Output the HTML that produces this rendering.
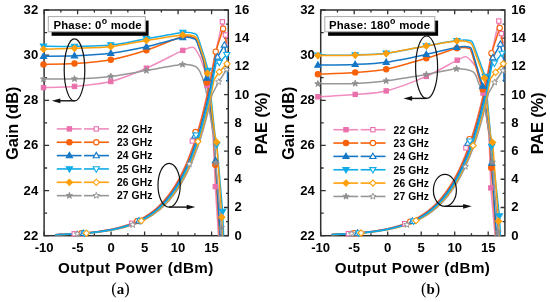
<!DOCTYPE html><html><head><meta charset="utf-8"><style>html,body{margin:0;padding:0;background:#fff;}svg{display:block;}.t{font-family:"Liberation Sans",Arial,sans-serif;font-weight:bold;fill:#000;}.s{font-family:"Liberation Serif","Times New Roman",serif;fill:#000;}</style></head><body><svg width="550" height="302" viewBox="0 0 550 302"><rect width="550" height="302" fill="#fff"/><clipPath id="c44"><rect x="44.1" y="10.0" width="184.20000000000002" height="225.7"/></clipPath><path d="M44.1,235.7v-4.3M44.1,10.0v4.3M60.85,235.7v-2.5M60.85,10.0v2.5M77.6,235.7v-4.3M77.6,10.0v4.3M94.35,235.7v-2.5M94.35,10.0v2.5M111.1,235.7v-4.3M111.1,10.0v4.3M127.85,235.7v-2.5M127.85,10.0v2.5M144.6,235.7v-4.3M144.6,10.0v4.3M161.35,235.7v-2.5M161.35,10.0v2.5M178.1,235.7v-4.3M178.1,10.0v4.3M194.85,235.7v-2.5M194.85,10.0v2.5M211.6,235.7v-4.3M211.6,10.0v4.3M44.1,235.7h5M44.1,213.13h3M44.1,190.56h5M44.1,167.99h3M44.1,145.42h5M44.1,122.85h3M44.1,100.28h5M44.1,77.71h3M44.1,55.14h5M44.1,32.57h3M44.1,10h5M228.3,235.7h-4.3M228.3,221.59h-2.3M228.3,207.49h-4.3M228.3,193.38h-2.3M228.3,179.27h-4.3M228.3,165.17h-2.3M228.3,151.06h-4.3M228.3,136.96h-2.3M228.3,122.85h-4.3M228.3,108.74h-2.3M228.3,94.64h-4.3M228.3,80.53h-2.3M228.3,66.43h-4.3M228.3,52.32h-2.3M228.3,38.21h-4.3M228.3,24.11h-2.3M228.3,10h-4.3" stroke="#303030" stroke-width="1.3" fill="none"/><rect x="44.1" y="10.0" width="184.2" height="225.7" fill="none" stroke="#303030" stroke-width="1.5"/><g clip-path="url(#c44)"><path d="M43.5,87.6C47.53,87.44 65.75,87.19 74.5,86.4C83.25,85.61 101.45,83.87 110.8,81.5C120.15,79.13 137.04,72.24 146.4,68.2C155.76,64.16 176.7,53.1 182.8,50.4C188.9,47.7 191.01,46.44 193.3,47.4C195.59,48.36 198.93,54.87 200.4,57.8L204.6,69.9L207.2,85.2L213,135L215.3,186.6L218.8,240" fill="none" stroke="#F08CBE" stroke-width="1.5" stroke-linejoin="round"/></g><g clip-path="url(#c44)"><path d="M43.5,64.4C47.53,64.28 65.75,64.11 74.5,63.5C83.25,62.89 101.45,61.43 110.8,59.7C120.15,57.97 137.04,53.2 146.4,50.2C155.76,47.2 176.61,38.21 182.8,36.6C188.99,34.99 192.15,37.23 194,37.8C195.85,38.37 195.76,37.98 197,41L203.5,61L206.8,82.5L213.5,135L215.3,164.8L219.8,240" fill="none" stroke="#F8620A" stroke-width="1.5" stroke-linejoin="round"/></g><g clip-path="url(#c44)"><path d="M43.5,56.2C47.53,56.14 65.75,56.09 74.5,55.7C83.25,55.31 101.45,54.37 110.8,53.2C120.15,52.03 137.04,48.73 146.4,46.7C155.76,44.67 176.61,38.63 182.8,37.6C188.99,36.57 192.15,38.23 194,38.8C195.85,39.37 195.73,39.18 197,42L203.8,60.5L206.8,78L214,135L215.5,160.6L220.4,240" fill="none" stroke="#1577C6" stroke-width="1.5" stroke-linejoin="round"/></g><g clip-path="url(#c44)"><path d="M43.5,46.2C47.53,46.23 65.75,46.56 74.5,46.4C83.25,46.24 101.45,45.99 110.8,45C120.15,44.01 137.04,40.44 146.4,38.8C155.76,37.16 176.47,33.06 182.8,32.4C189.13,31.74 193.12,33.04 195.1,33.7C197.08,34.36 196.76,34.37 198,37.5L204.6,57.8L208.2,70.5L215,135L216.8,144.6L222.6,211.4L223.8,240" fill="none" stroke="#10ACE8" stroke-width="1.5" stroke-linejoin="round"/></g><g clip-path="url(#c44)"><path d="M43.5,49.2C47.53,49.08 65.75,48.62 74.5,48.3C83.25,47.97 101.45,47.73 110.8,46.7C120.15,45.67 137.04,41.93 146.4,40.4C155.76,38.87 176.55,35.45 182.8,34.9C189.05,34.35 192.58,35.56 194.5,36.2C196.42,36.84 196.34,36.84 197.6,39.8L204.2,59L207.5,73.2L214.7,135L216.6,142.2L221.8,217.2L222.6,240" fill="none" stroke="#FFA00C" stroke-width="1.5" stroke-linejoin="round"/></g><g clip-path="url(#c44)"><path d="M43.5,79.1C47.53,79.07 65.75,79.25 74.5,78.9C83.25,78.55 101.45,77.48 110.8,76.4C120.15,75.32 137.08,72.15 146.4,70.6C155.72,69.05 175.81,64.79 182.5,64.5C189.19,64.21 194.83,64.98 197.9,68.4C200.97,71.82 204.07,82.14 206.1,90.8L213.5,135L215.8,162.8L221.4,227.6L221.8,240" fill="none" stroke="#979797" stroke-width="1.5" stroke-linejoin="round"/></g><g clip-path="url(#c44)"><polyline points="55.1,234.81 56.6,234.77 58.1,234.72 59.6,234.67 61.1,234.62 62.6,234.57 64.1,234.51 65.6,234.46 67.1,234.39 68.6,234.33 70.1,234.26 71.6,234.19 73.1,234.11 74.6,234.03 76.1,233.95 77.6,233.87 79.1,233.77 80.6,233.68 82.1,233.58 83.6,233.47 85.1,233.36 86.6,233.25 88.1,233.12 89.6,233 91.1,232.86 92.6,232.72 94.1,232.57 95.6,232.42 97.1,232.26 98.6,232.08 100.1,231.91 101.6,231.72 103.1,231.52 104.6,231.31 106.1,231.09 107.6,230.86 109.1,230.62 110.6,230.37 112.1,230.11 113.6,229.83 115.1,229.54 116.6,229.23 118.1,228.91 119.6,228.58 121.1,228.22 122.6,227.85 124.1,227.46 125.6,227.05 127.1,226.62 128.6,226.17 130.1,225.7 131.6,225.2 133.1,224.68 134.6,224.13 136.1,223.56 137.6,222.96 139.1,222.32 140.6,221.66 142.1,220.96 143.6,220.23 145.1,219.46 146.6,218.66 148.1,217.81 149.6,216.92 151.1,215.99 152.6,215.01 154.1,213.98 155.6,212.9 157.1,211.77 158.6,210.58 160.1,209.34 161.6,208.03 163.1,206.65 164.6,205.21 166.1,203.7 167.6,202.11 169.1,200.44 170.6,198.69 172.1,196.85 173.6,194.93 175.1,192.9 176.6,190.78 178.1,188.55 179.6,186.2 181.1,183.75 182.6,181.17 184.1,178.46 185.6,175.62 187.1,172.63 188.6,169.5 190.1,166.22 191.6,162.77 193.1,159.14 194.6,155.34 196.1,151.35 197.6,147.17 199.1,142.77 200.6,138.16 202.1,133.31 203.6,128.23 205.1,122.89 206.6,117.29 208.1,111.41 209.6,105.24 211.1,98.77 212,94.73 218.6,81.9 226.6,69.5" fill="none" stroke="#979797" stroke-width="1.5" stroke-linejoin="round"/></g><g clip-path="url(#c44)"><polyline points="55.1,234.66 56.6,234.61 58.1,234.55 59.6,234.49 61.1,234.43 62.6,234.37 64.1,234.31 65.6,234.24 67.1,234.16 68.6,234.09 70.1,234.01 71.6,233.92 73.1,233.84 74.6,233.74 76.1,233.65 77.6,233.54 79.1,233.44 80.6,233.32 82.1,233.21 83.6,233.08 85.1,232.95 86.6,232.82 88.1,232.67 89.6,232.52 91.1,232.37 92.6,232.2 94.1,232.03 95.6,231.84 97.1,231.65 98.6,231.45 100.1,231.24 101.6,231.02 103.1,230.79 104.6,230.54 106.1,230.29 107.6,230.02 109.1,229.73 110.6,229.44 112.1,229.13 113.6,228.8 115.1,228.46 116.6,228.1 118.1,227.72 119.6,227.33 121.1,226.91 122.6,226.47 124.1,226.02 125.6,225.53 127.1,225.03 128.6,224.5 130.1,223.94 131.6,223.36 133.1,222.75 134.6,222.11 136.1,221.43 137.6,220.72 139.1,219.98 140.6,219.2 142.1,218.38 143.6,217.52 145.1,216.62 146.6,215.67 148.1,214.67 149.6,213.63 151.1,212.53 152.6,211.38 154.1,210.18 155.6,208.91 157.1,207.58 158.6,206.18 160.1,204.72 161.6,203.18 163.1,201.56 164.6,199.87 166.1,198.09 167.6,196.22 169.1,194.26 170.6,192.2 172.1,190.04 173.6,187.78 175.1,185.4 176.6,182.9 178.1,180.28 179.6,177.53 181.1,174.64 182.6,171.61 184.1,168.42 185.6,165.08 187.1,161.58 188.6,157.9 190.1,154.04 191.6,149.98 193.1,145.72 194.6,141.26 196.1,136.57 197.6,131.65 199.1,126.48 200.6,121.06 202.1,115.36 203.6,109.39 205.1,103.12 206.6,96.54 208.1,89.63 209.6,82.37 211.1,74.76 212.6,66.77 213.5,61.79 222.4,21.8 225.4,35 227.2,46" fill="none" stroke="#F08CBE" stroke-width="1.5" stroke-linejoin="round"/></g><g clip-path="url(#c44)"><polyline points="55.1,234.67 56.6,234.62 58.1,234.57 59.6,234.51 61.1,234.45 62.6,234.39 64.1,234.32 65.6,234.26 67.1,234.18 68.6,234.11 70.1,234.03 71.6,233.95 73.1,233.86 74.6,233.77 76.1,233.67 77.6,233.57 79.1,233.47 80.6,233.35 82.1,233.24 83.6,233.12 85.1,232.99 86.6,232.85 88.1,232.71 89.6,232.56 91.1,232.41 92.6,232.24 94.1,232.07 95.6,231.89 97.1,231.7 98.6,231.51 100.1,231.3 101.6,231.08 103.1,230.85 104.6,230.61 106.1,230.36 107.6,230.09 109.1,229.81 110.6,229.52 112.1,229.21 113.6,228.89 115.1,228.55 116.6,228.2 118.1,227.82 119.6,227.43 121.1,227.02 122.6,226.59 124.1,226.14 125.6,225.67 127.1,225.17 128.6,224.64 130.1,224.1 131.6,223.52 133.1,222.91 134.6,222.28 136.1,221.61 137.6,220.91 139.1,220.18 140.6,219.41 142.1,218.6 143.6,217.75 145.1,216.86 146.6,215.92 148.1,214.94 149.6,213.91 151.1,212.83 152.6,211.69 154.1,210.5 155.6,209.25 157.1,207.94 158.6,206.56 160.1,205.11 161.6,203.6 163.1,202 164.6,200.33 166.1,198.57 167.6,196.73 169.1,194.79 170.6,192.76 172.1,190.63 173.6,188.39 175.1,186.04 176.6,183.58 178.1,180.99 179.6,178.27 181.1,175.42 182.6,172.43 184.1,169.29 185.6,165.99 187.1,162.53 188.6,158.9 190.1,155.08 191.6,151.08 193.1,146.88 194.6,142.47 196.1,137.84 197.6,132.98 199.1,127.88 200.6,122.53 202.1,116.91 203.6,111.01 205.1,104.82 206.6,98.32 208.1,91.5 209.6,84.34 211.1,76.83 212.6,68.94 214.1,60.66 215.6,51.97 215.7,51.6 223.1,28.7 226.4,43" fill="none" stroke="#F8620A" stroke-width="1.5" stroke-linejoin="round"/></g><g clip-path="url(#c44)"><polyline points="55.1,234.78 56.6,234.74 58.1,234.69 59.6,234.64 61.1,234.58 62.6,234.53 64.1,234.47 65.6,234.41 67.1,234.35 68.6,234.28 70.1,234.21 71.6,234.13 73.1,234.06 74.6,233.97 76.1,233.89 77.6,233.8 79.1,233.7 80.6,233.61 82.1,233.5 83.6,233.39 85.1,233.28 86.6,233.16 88.1,233.03 89.6,232.9 91.1,232.76 92.6,232.61 94.1,232.46 95.6,232.3 97.1,232.13 98.6,231.95 100.1,231.77 101.6,231.57 103.1,231.37 104.6,231.15 106.1,230.93 107.6,230.69 109.1,230.44 110.6,230.18 112.1,229.91 113.6,229.62 115.1,229.32 116.6,229 118.1,228.67 119.6,228.32 121.1,227.95 122.6,227.57 124.1,227.16 125.6,226.74 127.1,226.29 128.6,225.83 130.1,225.34 131.6,224.82 133.1,224.28 134.6,223.71 136.1,223.12 137.6,222.49 139.1,221.84 140.6,221.15 142.1,220.43 143.6,219.67 145.1,218.87 146.6,218.04 148.1,217.16 149.6,216.24 151.1,215.28 152.6,214.26 154.1,213.2 155.6,212.08 157.1,210.91 158.6,209.68 160.1,208.38 161.6,207.03 163.1,205.6 164.6,204.11 166.1,202.54 167.6,200.89 169.1,199.17 170.6,197.35 172.1,195.45 173.6,193.45 175.1,191.35 176.6,189.15 178.1,186.84 179.6,184.41 181.1,181.87 182.6,179.19 184.1,176.39 185.6,173.44 187.1,170.35 188.6,167.11 190.1,163.7 191.6,160.13 193.1,156.38 194.6,152.44 196.1,148.3 197.6,143.96 199.1,139.41 200.6,134.63 202.1,129.61 203.6,124.34 205.1,118.81 206.6,113.01 208.1,106.92 209.6,100.52 211.1,93.81 212.6,86.77 214,79.88 219.2,71.9 227,63.8" fill="none" stroke="#FFA00C" stroke-width="1.5" stroke-linejoin="round"/></g><g clip-path="url(#c44)"><polyline points="55.1,234.71 56.6,234.66 58.1,234.61 59.6,234.56 61.1,234.5 62.6,234.44 64.1,234.38 65.6,234.31 67.1,234.25 68.6,234.17 70.1,234.1 71.6,234.02 73.1,233.94 74.6,233.85 76.1,233.76 77.6,233.66 79.1,233.56 80.6,233.45 82.1,233.34 83.6,233.22 85.1,233.1 86.6,232.97 88.1,232.83 89.6,232.69 91.1,232.54 92.6,232.39 94.1,232.22 95.6,232.05 97.1,231.87 98.6,231.68 100.1,231.48 101.6,231.27 103.1,231.05 104.6,230.82 106.1,230.58 107.6,230.32 109.1,230.05 110.6,229.77 112.1,229.48 113.6,229.17 115.1,228.85 116.6,228.51 118.1,228.15 119.6,227.77 121.1,227.38 122.6,226.97 124.1,226.53 125.6,226.08 127.1,225.6 128.6,225.1 130.1,224.57 131.6,224.02 133.1,223.44 134.6,222.83 136.1,222.19 137.6,221.52 139.1,220.82 140.6,220.08 142.1,219.3 143.6,218.49 145.1,217.63 146.6,216.74 148.1,215.8 149.6,214.81 151.1,213.77 152.6,212.68 154.1,211.54 155.6,210.34 157.1,209.08 158.6,207.76 160.1,206.37 161.6,204.92 163.1,203.39 164.6,201.78 166.1,200.1 167.6,198.33 169.1,196.48 170.6,194.53 172.1,192.48 173.6,190.34 175.1,188.09 176.6,185.72 178.1,183.24 179.6,180.64 181.1,177.9 182.6,175.03 184.1,172.02 185.6,168.86 187.1,165.54 188.6,162.06 190.1,158.4 191.6,154.56 193.1,150.53 194.6,146.3 196.1,141.87 197.6,137.21 199.1,132.32 200.6,127.18 202.1,121.8 203.6,116.14 205.1,110.2 206.6,103.97 208.1,97.43 209.6,90.57 211.1,83.36 212.6,75.8 214.1,67.86 215.6,59.52 216.5,54.33 217.6,57 224.4,45 227.3,60 227.6,82" fill="none" stroke="#1577C6" stroke-width="1.5" stroke-linejoin="round"/></g><g clip-path="url(#c44)"><polyline points="55.1,234.75 56.6,234.7 58.1,234.65 59.6,234.6 61.1,234.54 62.6,234.49 64.1,234.43 65.6,234.36 67.1,234.3 68.6,234.23 70.1,234.15 71.6,234.08 73.1,234 74.6,233.91 76.1,233.82 77.6,233.73 79.1,233.63 80.6,233.53 82.1,233.42 83.6,233.31 85.1,233.19 86.6,233.07 88.1,232.93 89.6,232.8 91.1,232.65 92.6,232.5 94.1,232.34 95.6,232.18 97.1,232 98.6,231.82 100.1,231.63 101.6,231.42 103.1,231.21 104.6,230.99 106.1,230.75 107.6,230.51 109.1,230.25 110.6,229.98 112.1,229.7 113.6,229.4 115.1,229.09 116.6,228.76 118.1,228.41 119.6,228.05 121.1,227.67 122.6,227.27 124.1,226.85 125.6,226.41 127.1,225.95 128.6,225.47 130.1,224.96 131.6,224.43 133.1,223.87 134.6,223.28 136.1,222.66 137.6,222.02 139.1,221.34 140.6,220.62 142.1,219.88 143.6,219.09 145.1,218.27 146.6,217.4 148.1,216.49 149.6,215.54 151.1,214.54 152.6,213.49 154.1,212.38 155.6,211.23 157.1,210.01 158.6,208.73 160.1,207.4 161.6,205.99 163.1,204.52 164.6,202.97 166.1,201.34 167.6,199.64 169.1,197.84 170.6,195.97 172.1,193.99 173.6,191.92 175.1,189.75 176.6,187.47 178.1,185.07 179.6,182.56 181.1,179.92 182.6,177.15 184.1,174.24 185.6,171.19 187.1,167.99 188.6,164.63 190.1,161.1 191.6,157.39 193.1,153.51 194.6,149.43 196.1,145.14 197.6,140.65 199.1,135.93 200.6,130.97 202.1,125.77 203.6,120.31 205.1,114.58 206.6,108.57 208.1,102.26 209.6,95.63 211.1,88.68 212.6,81.38 214.1,73.72 215.6,65.68 216,63.46 219.3,62.5 226.8,54.6" fill="none" stroke="#10ACE8" stroke-width="1.5" stroke-linejoin="round"/></g><rect x="41.35" y="85.45" width="4.3" height="4.3" fill="#EA70AC" stroke="#EA70AC" stroke-width="1.1"/><rect x="72.35" y="84.25" width="4.3" height="4.3" fill="#EA70AC" stroke="#EA70AC" stroke-width="1.1"/><rect x="108.65" y="79.35" width="4.3" height="4.3" fill="#EA70AC" stroke="#EA70AC" stroke-width="1.1"/><rect x="144.25" y="66.05" width="4.3" height="4.3" fill="#EA70AC" stroke="#EA70AC" stroke-width="1.1"/><rect x="180.65" y="48.25" width="4.3" height="4.3" fill="#EA70AC" stroke="#EA70AC" stroke-width="1.1"/><rect x="205.05" y="83.05" width="4.3" height="4.3" fill="#EA70AC" stroke="#EA70AC" stroke-width="1.1"/><rect x="213.15" y="184.45" width="4.3" height="4.3" fill="#EA70AC" stroke="#EA70AC" stroke-width="1.1"/><rect x="72.05" y="231.62" width="4.3" height="4.3" fill="#fff" stroke="#EA70AC" stroke-width="1.1"/><rect x="129.65" y="221.13" width="4.3" height="4.3" fill="#fff" stroke="#EA70AC" stroke-width="1.1"/><rect x="190.15" y="138.85" width="4.3" height="4.3" fill="#fff" stroke="#EA70AC" stroke-width="1.1"/><rect x="220.25" y="19.65" width="4.3" height="4.3" fill="#fff" stroke="#EA70AC" stroke-width="1.1"/><rect x="223.25" y="32.85" width="4.3" height="4.3" fill="#fff" stroke="#EA70AC" stroke-width="1.1"/><circle cx="43.5" cy="64.4" r="2.65" fill="#F8620A" stroke="#F8620A" stroke-width="1.1"/><circle cx="74.5" cy="63.5" r="2.65" fill="#F8620A" stroke="#F8620A" stroke-width="1.1"/><circle cx="110.8" cy="59.7" r="2.65" fill="#F8620A" stroke="#F8620A" stroke-width="1.1"/><circle cx="146.4" cy="50.2" r="2.65" fill="#F8620A" stroke="#F8620A" stroke-width="1.1"/><circle cx="182.8" cy="36.6" r="2.65" fill="#F8620A" stroke="#F8620A" stroke-width="1.1"/><circle cx="206.8" cy="82.5" r="2.65" fill="#F8620A" stroke="#F8620A" stroke-width="1.1"/><circle cx="215.3" cy="164.8" r="2.65" fill="#F8620A" stroke="#F8620A" stroke-width="1.1"/><circle cx="81.5" cy="233.29" r="2.65" fill="#fff" stroke="#F8620A" stroke-width="1.1"/><circle cx="137.3" cy="221.06" r="2.65" fill="#fff" stroke="#F8620A" stroke-width="1.1"/><circle cx="195.5" cy="132" r="2.65" fill="#fff" stroke="#F8620A" stroke-width="1.1"/><circle cx="215.7" cy="51.6" r="2.65" fill="#fff" stroke="#F8620A" stroke-width="1.1"/><circle cx="223.1" cy="28.7" r="2.65" fill="#fff" stroke="#F8620A" stroke-width="1.1"/><polygon points="43.5,52.96 46.6,58.36 40.4,58.36" fill="#1577C6" stroke="#1577C6" stroke-width="1.1" stroke-linejoin="miter"/><polygon points="74.5,52.46 77.6,57.86 71.4,57.86" fill="#1577C6" stroke="#1577C6" stroke-width="1.1" stroke-linejoin="miter"/><polygon points="110.8,49.96 113.9,55.36 107.7,55.36" fill="#1577C6" stroke="#1577C6" stroke-width="1.1" stroke-linejoin="miter"/><polygon points="146.4,43.46 149.5,48.86 143.3,48.86" fill="#1577C6" stroke="#1577C6" stroke-width="1.1" stroke-linejoin="miter"/><polygon points="182.8,34.36 185.9,39.76 179.7,39.76" fill="#1577C6" stroke="#1577C6" stroke-width="1.1" stroke-linejoin="miter"/><polygon points="206.8,74.76 209.9,80.16 203.7,80.16" fill="#1577C6" stroke="#1577C6" stroke-width="1.1" stroke-linejoin="miter"/><polygon points="215.5,157.36 218.6,162.76 212.4,162.76" fill="#1577C6" stroke="#1577C6" stroke-width="1.1" stroke-linejoin="miter"/><polygon points="83.3,230.01 86.4,235.41 80.2,235.41" fill="#fff" stroke="#1577C6" stroke-width="1.1" stroke-linejoin="miter"/><polygon points="139,217.63 142.1,223.03 135.9,223.03" fill="#fff" stroke="#1577C6" stroke-width="1.1" stroke-linejoin="miter"/><polygon points="194.9,132.66 198,138.06 191.8,138.06" fill="#fff" stroke="#1577C6" stroke-width="1.1" stroke-linejoin="miter"/><polygon points="217.6,53.76 220.7,59.16 214.5,59.16" fill="#fff" stroke="#1577C6" stroke-width="1.1" stroke-linejoin="miter"/><polygon points="224.4,41.76 227.5,47.16 221.3,47.16" fill="#fff" stroke="#1577C6" stroke-width="1.1" stroke-linejoin="miter"/><polygon points="43.5,49.44 46.6,44.04 40.4,44.04" fill="#10ACE8" stroke="#10ACE8" stroke-width="1.1"/><polygon points="74.5,49.64 77.6,44.24 71.4,44.24" fill="#10ACE8" stroke="#10ACE8" stroke-width="1.1"/><polygon points="110.8,48.24 113.9,42.84 107.7,42.84" fill="#10ACE8" stroke="#10ACE8" stroke-width="1.1"/><polygon points="146.4,42.04 149.5,36.64 143.3,36.64" fill="#10ACE8" stroke="#10ACE8" stroke-width="1.1"/><polygon points="182.8,35.64 185.9,30.24 179.7,30.24" fill="#10ACE8" stroke="#10ACE8" stroke-width="1.1"/><polygon points="208.2,73.74 211.3,68.34 205.1,68.34" fill="#10ACE8" stroke="#10ACE8" stroke-width="1.1"/><polygon points="216.8,147.84 219.9,142.44 213.7,142.44" fill="#10ACE8" stroke="#10ACE8" stroke-width="1.1"/><polygon points="222.6,214.64 225.7,209.24 219.5,209.24" fill="#10ACE8" stroke="#10ACE8" stroke-width="1.1"/><polygon points="84.5,236.48 87.6,231.08 81.4,231.08" fill="#fff" stroke="#10ACE8" stroke-width="1.1"/><polygon points="140,224.15 143.1,218.75 136.9,218.75" fill="#fff" stroke="#10ACE8" stroke-width="1.1"/><polygon points="196,138.44 199.1,133.04 192.9,133.04" fill="#fff" stroke="#10ACE8" stroke-width="1.1"/><polygon points="219.3,65.74 222.4,60.34 216.2,60.34" fill="#fff" stroke="#10ACE8" stroke-width="1.1"/><polygon points="226.8,57.84 229.9,52.44 223.7,52.44" fill="#fff" stroke="#10ACE8" stroke-width="1.1"/><polygon points="43.5,46.1 46.6,49.2 43.5,52.3 40.4,49.2" fill="#FFA00C" stroke="#FFA00C" stroke-width="1.1"/><polygon points="74.5,45.2 77.6,48.3 74.5,51.4 71.4,48.3" fill="#FFA00C" stroke="#FFA00C" stroke-width="1.1"/><polygon points="110.8,43.6 113.9,46.7 110.8,49.8 107.7,46.7" fill="#FFA00C" stroke="#FFA00C" stroke-width="1.1"/><polygon points="146.4,37.3 149.5,40.4 146.4,43.5 143.3,40.4" fill="#FFA00C" stroke="#FFA00C" stroke-width="1.1"/><polygon points="182.8,31.8 185.9,34.9 182.8,38 179.7,34.9" fill="#FFA00C" stroke="#FFA00C" stroke-width="1.1"/><polygon points="207.5,70.1 210.6,73.2 207.5,76.3 204.4,73.2" fill="#FFA00C" stroke="#FFA00C" stroke-width="1.1"/><polygon points="216.6,139.1 219.7,142.2 216.6,145.3 213.5,142.2" fill="#FFA00C" stroke="#FFA00C" stroke-width="1.1"/><polygon points="221.8,214.1 224.9,217.2 221.8,220.3 218.7,217.2" fill="#FFA00C" stroke="#FFA00C" stroke-width="1.1"/><polygon points="86.4,230.07 89.5,233.17 86.4,236.27 83.3,233.17" fill="#fff" stroke="#FFA00C" stroke-width="1.1"/><polygon points="141.3,217.72 144.4,220.82 141.3,223.92 138.2,220.82" fill="#fff" stroke="#FFA00C" stroke-width="1.1"/><polygon points="197.9,138.4 201,141.5 197.9,144.6 194.8,141.5" fill="#fff" stroke="#FFA00C" stroke-width="1.1"/><polygon points="219.2,68.8 222.3,71.9 219.2,75 216.1,71.9" fill="#fff" stroke="#FFA00C" stroke-width="1.1"/><polygon points="227,60.7 230.1,63.8 227,66.9 223.9,63.8" fill="#fff" stroke="#FFA00C" stroke-width="1.1"/><polygon points="43.5,75.8 44.29,78.01 46.64,78.08 44.78,79.52 45.44,81.77 43.5,80.45 41.56,81.77 42.22,79.52 40.36,78.08 42.71,78.01" fill="#8F8F8F" stroke="#8F8F8F" stroke-width="0.9"/><polygon points="74.5,75.6 75.29,77.81 77.64,77.88 75.78,79.32 76.44,81.57 74.5,80.25 72.56,81.57 73.22,79.32 71.36,77.88 73.71,77.81" fill="#8F8F8F" stroke="#8F8F8F" stroke-width="0.9"/><polygon points="110.8,73.1 111.59,75.31 113.94,75.38 112.08,76.82 112.74,79.07 110.8,77.75 108.86,79.07 109.52,76.82 107.66,75.38 110.01,75.31" fill="#8F8F8F" stroke="#8F8F8F" stroke-width="0.9"/><polygon points="146.4,67.3 147.19,69.51 149.54,69.58 147.68,71.02 148.34,73.27 146.4,71.95 144.46,73.27 145.12,71.02 143.26,69.58 145.61,69.51" fill="#8F8F8F" stroke="#8F8F8F" stroke-width="0.9"/><polygon points="182.5,61.2 183.29,63.41 185.64,63.48 183.78,64.92 184.44,67.17 182.5,65.85 180.56,67.17 181.22,64.92 179.36,63.48 181.71,63.41" fill="#8F8F8F" stroke="#8F8F8F" stroke-width="0.9"/><polygon points="215.8,159.5 216.59,161.71 218.94,161.78 217.08,163.22 217.74,165.47 215.8,164.15 213.86,165.47 214.52,163.22 212.66,161.78 215.01,161.71" fill="#8F8F8F" stroke="#8F8F8F" stroke-width="0.9"/><polygon points="221.4,224.3 222.19,226.51 224.54,226.58 222.68,228.02 223.34,230.27 221.4,228.95 219.46,230.27 220.12,228.02 218.26,226.58 220.61,226.51" fill="#8F8F8F" stroke="#8F8F8F" stroke-width="0.9"/><polygon points="77.3,230.58 78.09,232.79 80.44,232.86 78.58,234.3 79.24,236.55 77.3,235.23 75.36,236.55 76.02,234.3 74.16,232.86 76.51,232.79" fill="#fff" stroke="#8F8F8F" stroke-width="0.9"/><polygon points="132.7,221.52 133.49,223.73 135.84,223.8 133.98,225.24 134.64,227.49 132.7,226.17 130.76,227.49 131.42,225.24 129.56,223.8 131.91,223.73" fill="#fff" stroke="#8F8F8F" stroke-width="0.9"/><polygon points="189.4,160.7 190.19,162.91 192.54,162.98 190.68,164.42 191.34,166.67 189.4,165.35 187.46,166.67 188.12,164.42 186.26,162.98 188.61,162.91" fill="#fff" stroke="#8F8F8F" stroke-width="0.9"/><polygon points="218.6,78.6 219.39,80.81 221.74,80.88 219.88,82.32 220.54,84.57 218.6,83.25 216.66,84.57 217.32,82.32 215.46,80.88 217.81,80.81" fill="#fff" stroke="#8F8F8F" stroke-width="0.9"/><polygon points="226.6,66.2 227.39,68.41 229.74,68.48 227.88,69.92 228.54,72.17 226.6,70.85 224.66,72.17 225.32,69.92 223.46,68.48 225.81,68.41" fill="#fff" stroke="#8F8F8F" stroke-width="0.9"/><line x1="56.8" y1="128.9" x2="81.6" y2="128.9" stroke="#F08CBE" stroke-width="1.6"/><line x1="84" y1="128.9" x2="108.9" y2="128.9" stroke="#F08CBE" stroke-width="1.6"/><rect x="67.25" y="126.75" width="4.3" height="4.3" fill="#EA70AC" stroke="#EA70AC" stroke-width="1.1"/><rect x="94.15" y="126.75" width="4.3" height="4.3" fill="#fff" stroke="#EA70AC" stroke-width="1.1"/><text class="t" x="117" y="132.7" font-size="10.3" letter-spacing="0.1">22 GHz</text><line x1="56.8" y1="142.25" x2="81.6" y2="142.25" stroke="#F8620A" stroke-width="1.6"/><line x1="84" y1="142.25" x2="108.9" y2="142.25" stroke="#F8620A" stroke-width="1.6"/><circle cx="69.4" cy="142.25" r="2.65" fill="#F8620A" stroke="#F8620A" stroke-width="1.1"/><circle cx="96.3" cy="142.25" r="2.65" fill="#fff" stroke="#F8620A" stroke-width="1.1"/><text class="t" x="117" y="146.05" font-size="10.3" letter-spacing="0.1">23 GHz</text><line x1="56.8" y1="155.6" x2="81.6" y2="155.6" stroke="#1577C6" stroke-width="1.6"/><line x1="84" y1="155.6" x2="108.9" y2="155.6" stroke="#1577C6" stroke-width="1.6"/><polygon points="69.4,152.36 72.5,157.76 66.3,157.76" fill="#1577C6" stroke="#1577C6" stroke-width="1.1" stroke-linejoin="miter"/><polygon points="96.3,152.36 99.4,157.76 93.2,157.76" fill="#fff" stroke="#1577C6" stroke-width="1.1" stroke-linejoin="miter"/><text class="t" x="117" y="159.4" font-size="10.3" letter-spacing="0.1">24 GHz</text><line x1="56.8" y1="168.95" x2="81.6" y2="168.95" stroke="#10ACE8" stroke-width="1.6"/><line x1="84" y1="168.95" x2="108.9" y2="168.95" stroke="#10ACE8" stroke-width="1.6"/><polygon points="69.4,172.19 72.5,166.79 66.3,166.79" fill="#10ACE8" stroke="#10ACE8" stroke-width="1.1"/><polygon points="96.3,172.19 99.4,166.79 93.2,166.79" fill="#fff" stroke="#10ACE8" stroke-width="1.1"/><text class="t" x="117" y="172.75" font-size="10.3" letter-spacing="0.1">25 GHz</text><line x1="56.8" y1="182.3" x2="81.6" y2="182.3" stroke="#FFA00C" stroke-width="1.6"/><line x1="84" y1="182.3" x2="108.9" y2="182.3" stroke="#FFA00C" stroke-width="1.6"/><polygon points="69.4,179.2 72.5,182.3 69.4,185.4 66.3,182.3" fill="#FFA00C" stroke="#FFA00C" stroke-width="1.1"/><polygon points="96.3,179.2 99.4,182.3 96.3,185.4 93.2,182.3" fill="#fff" stroke="#FFA00C" stroke-width="1.1"/><text class="t" x="117" y="186.1" font-size="10.3" letter-spacing="0.1">26 GHz</text><line x1="56.8" y1="195.65" x2="81.6" y2="195.65" stroke="#979797" stroke-width="1.6"/><line x1="84" y1="195.65" x2="108.9" y2="195.65" stroke="#979797" stroke-width="1.6"/><polygon points="69.4,192.35 70.19,194.56 72.54,194.63 70.68,196.07 71.34,198.32 69.4,197 67.46,198.32 68.12,196.07 66.26,194.63 68.61,194.56" fill="#8F8F8F" stroke="#8F8F8F" stroke-width="0.9"/><polygon points="96.3,192.35 97.09,194.56 99.44,194.63 97.58,196.07 98.24,198.32 96.3,197 94.36,198.32 95.02,196.07 93.16,194.63 95.51,194.56" fill="#fff" stroke="#8F8F8F" stroke-width="0.9"/><text class="t" x="117" y="199.45" font-size="10.3" letter-spacing="0.1">27 GHz</text><rect x="51.6" y="20.6" width="97" height="15.2" fill="#000"/><rect x="48.3" y="16.6" width="97" height="15.2" fill="#fff" stroke="#aaa" stroke-width="1"/><text class="t" x="53.5" y="28.8" font-size="11.4" letter-spacing="0.15">Phase: 0<tspan dx="0.1" dy="-4.6" font-size="8.8">o</tspan><tspan dx="0.3" dy="4.6"> mode</tspan></text><ellipse cx="74.5" cy="69.9" rx="10.3" ry="31.0" fill="none" stroke="#111" stroke-width="1.2"/><line x1="74.5" y1="100.8" x2="59.3" y2="100.8" stroke="#111" stroke-width="1.4"/><polygon points="51.8,100.8 60.4,98.39999999999999 60.4,103.2" fill="#111"/><ellipse cx="169.1" cy="185.2" rx="11.1" ry="21.9" fill="none" stroke="#111" stroke-width="1.2"/><line x1="169.1" y1="207.1" x2="187.8" y2="207.1" stroke="#111" stroke-width="1.4"/><polygon points="195.3,207.1 186.70000000000002,204.7 186.70000000000002,209.5" fill="#111"/><text class="t" x="38.2" y="239.7" font-size="13.1" text-anchor="end">22</text><text class="t" x="38.2" y="194.56" font-size="13.1" text-anchor="end">24</text><text class="t" x="38.2" y="149.42" font-size="13.1" text-anchor="end">26</text><text class="t" x="38.2" y="104.28" font-size="13.1" text-anchor="end">28</text><text class="t" x="38.2" y="59.14" font-size="13.1" text-anchor="end">30</text><text class="t" x="38.2" y="14" font-size="13.1" text-anchor="end">32</text><text class="t" x="234.6" y="239.7" font-size="13.1">0</text><text class="t" x="234.6" y="211.49" font-size="13.1">2</text><text class="t" x="234.6" y="183.27" font-size="13.1">4</text><text class="t" x="234.6" y="155.06" font-size="13.1">6</text><text class="t" x="234.6" y="126.85" font-size="13.1">8</text><text class="t" x="234.6" y="98.64" font-size="13.1">10</text><text class="t" x="234.6" y="70.43" font-size="13.1">12</text><text class="t" x="234.6" y="42.21" font-size="13.1">14</text><text class="t" x="234.6" y="14" font-size="13.1">16</text><text class="t" x="44.1" y="252" font-size="13.1" text-anchor="middle">-10</text><text class="t" x="77.6" y="252" font-size="13.1" text-anchor="middle">-5</text><text class="t" x="111.1" y="252" font-size="13.1" text-anchor="middle">0</text><text class="t" x="144.6" y="252" font-size="13.1" text-anchor="middle">5</text><text class="t" x="178.1" y="252" font-size="13.1" text-anchor="middle">10</text><text class="t" x="211.6" y="252" font-size="13.1" text-anchor="middle">15</text><text class="t" x="135.9" y="272.5" font-size="15.2" letter-spacing="0.45" text-anchor="middle">Output Power (dBm)</text><text class="t" transform="translate(17.7,123.3) rotate(-90)" font-size="16.3" text-anchor="middle">Gain (dB)</text><text class="t" transform="translate(266.8,123.3) rotate(-90)" font-size="16.3" text-anchor="middle">PAE (%)</text><text class="s" x="120.4" y="294.2" font-size="16.3" text-anchor="middle">(<tspan font-weight="bold" font-size="15">a</tspan>)</text><clipPath id="c320"><rect x="320.7" y="10.0" width="184.2" height="225.7"/></clipPath><path d="M320.7,235.7v-4.3M320.7,10.0v4.3M337.45,235.7v-2.5M337.45,10.0v2.5M354.2,235.7v-4.3M354.2,10.0v4.3M370.95,235.7v-2.5M370.95,10.0v2.5M387.7,235.7v-4.3M387.7,10.0v4.3M404.45,235.7v-2.5M404.45,10.0v2.5M421.2,235.7v-4.3M421.2,10.0v4.3M437.95,235.7v-2.5M437.95,10.0v2.5M454.7,235.7v-4.3M454.7,10.0v4.3M471.45,235.7v-2.5M471.45,10.0v2.5M488.2,235.7v-4.3M488.2,10.0v4.3M320.7,235.7h5M320.7,213.13h3M320.7,190.56h5M320.7,167.99h3M320.7,145.42h5M320.7,122.85h3M320.7,100.28h5M320.7,77.71h3M320.7,55.14h5M320.7,32.57h3M320.7,10h5M504.9,235.7h-4.3M504.9,221.59h-2.3M504.9,207.49h-4.3M504.9,193.38h-2.3M504.9,179.27h-4.3M504.9,165.17h-2.3M504.9,151.06h-4.3M504.9,136.96h-2.3M504.9,122.85h-4.3M504.9,108.74h-2.3M504.9,94.64h-4.3M504.9,80.53h-2.3M504.9,66.43h-4.3M504.9,52.32h-2.3M504.9,38.21h-4.3M504.9,24.11h-2.3M504.9,10h-4.3" stroke="#303030" stroke-width="1.3" fill="none"/><rect x="320.7" y="10.0" width="184.2" height="225.7" fill="none" stroke="#303030" stroke-width="1.5"/><g clip-path="url(#c320)"><path d="M317.9,96.8C322.75,96.49 346.32,95.17 355.2,94.4C364.08,93.63 376.96,93.24 386.2,90.9C395.44,88.56 417.07,80.39 426.3,76.4C435.53,72.41 452,62.74 457.2,60.2C462.4,57.66 463.83,55.94 466.3,56.9C468.77,57.86 474.33,64.1 476.2,67.6L480.7,83.8L483,93L489,135L490.8,187.9L495.5,240" fill="none" stroke="#F08CBE" stroke-width="1.5" stroke-linejoin="round"/></g><g clip-path="url(#c320)"><path d="M317.9,74.2C322.75,73.97 346.32,73.05 355.2,72.4C364.08,71.75 376.96,71.03 386.2,69.2C395.44,67.37 417.11,61.02 426.3,58.3C435.49,55.58 451.41,49.61 456.9,48.3C462.39,46.99 466.54,47.52 468.5,48.2C470.46,48.88 470.17,48.16 472,53.5L482.6,89.3L489.3,135L491.2,167.7L496.3,240" fill="none" stroke="#F8620A" stroke-width="1.5" stroke-linejoin="round"/></g><g clip-path="url(#c320)"><path d="M317.9,65.1C322.75,65.01 346.32,64.78 355.2,64.4C364.08,64.02 376.96,63.5 386.2,62.2C395.44,60.9 417.11,56.34 426.3,54.4C435.49,52.46 451.35,48.26 456.9,47.3C462.45,46.34 466.97,46.39 469,47C471.03,47.61 470.73,46.93 472.5,52L482.6,86L489.8,135L491.7,163.1L496.8,240" fill="none" stroke="#1577C6" stroke-width="1.5" stroke-linejoin="round"/></g><g clip-path="url(#c320)"><path d="M317.9,55.2C322.75,55.16 346.32,55.16 355.2,54.9C364.08,54.64 376.96,54.37 386.2,53.2C395.44,52.03 417.11,47.54 426.3,45.9C435.49,44.26 451.11,41.26 456.9,40.6C462.69,39.94 468.53,39.97 470.8,40.8C473.07,41.63 472.53,42.36 474.4,47L485.2,76.5L490.6,135L491.6,146.5L499.4,215.9L500.6,240" fill="none" stroke="#10ACE8" stroke-width="1.5" stroke-linejoin="round"/></g><g clip-path="url(#c320)"><path d="M317.9,55.6C322.75,55.55 346.32,55.47 355.2,55.2C364.08,54.93 376.96,54.71 386.2,53.5C395.44,52.29 417.11,47.54 426.3,45.9C435.49,44.26 451.23,41.34 456.9,40.9C462.57,40.46 467.73,41.51 469.9,42.5C472.07,43.49 471.73,43.88 473.6,48.5L484.3,78L490.3,135L492.6,142.4L498.6,221.2L499.3,240" fill="none" stroke="#FFA00C" stroke-width="1.5" stroke-linejoin="round"/></g><g clip-path="url(#c320)"><path d="M317.9,83.8C322.75,83.76 346.32,83.88 355.2,83.5C364.08,83.12 376.96,82.07 386.2,80.9C395.44,79.73 417.16,76.07 426.3,74.5C435.44,72.93 450.36,69.11 456.5,68.8C462.64,68.49 470.59,70.15 473.5,72.1C476.41,74.05 477.74,81.28 478.9,83.8L482.4,91.5L489.5,135L492.3,162.3L498.1,232L498.4,240" fill="none" stroke="#979797" stroke-width="1.5" stroke-linejoin="round"/></g><g clip-path="url(#c320)"><polyline points="331.7,234.66 333.2,234.61 334.7,234.56 336.2,234.51 337.7,234.45 339.2,234.39 340.7,234.33 342.2,234.26 343.7,234.19 345.2,234.12 346.7,234.04 348.2,233.96 349.7,233.88 351.2,233.79 352.7,233.7 354.2,233.6 355.7,233.5 357.2,233.39 358.7,233.28 360.2,233.17 361.7,233.04 363.2,232.91 364.7,232.78 366.2,232.64 367.7,232.49 369.2,232.34 370.7,232.17 372.2,232 373.7,231.83 375.2,231.64 376.7,231.44 378.2,231.24 379.7,231.02 381.2,230.8 382.7,230.56 384.2,230.31 385.7,230.05 387.2,229.78 388.7,229.49 390.2,229.2 391.7,228.88 393.2,228.55 394.7,228.21 396.2,227.85 397.7,227.47 399.2,227.07 400.7,226.65 402.2,226.22 403.7,225.76 405.2,225.28 406.7,224.78 408.2,224.25 409.7,223.7 411.2,223.12 412.7,222.51 414.2,221.88 415.7,221.21 417.2,220.51 418.7,219.78 420.2,219.01 421.7,218.2 423.2,217.36 424.7,216.47 426.2,215.55 427.7,214.58 429.2,213.56 430.7,212.49 432.2,211.37 433.7,210.19 435.2,208.96 436.7,207.67 438.2,206.32 439.7,204.9 441.2,203.42 442.7,201.86 444.2,200.23 445.7,198.52 447.2,196.72 448.7,194.84 450.2,192.87 451.7,190.8 453.2,188.64 454.7,186.37 456.2,183.99 457.7,181.49 459.2,178.88 460.7,176.14 462.2,173.26 463.7,170.25 465.2,167.09 466.7,163.78 468.2,160.31 469.7,156.68 471.2,152.87 472.7,148.87 474.2,144.68 475.7,140.29 477.2,135.69 478.7,130.86 480.2,125.8 481.7,120.5 483.2,114.94 484.7,109.12 486.2,103.01 487.7,96.61 488.5,93.07 494.7,82.3 502.9,70.5" fill="none" stroke="#979797" stroke-width="1.5" stroke-linejoin="round"/></g><g clip-path="url(#c320)"><polyline points="331.7,234.49 333.2,234.43 334.7,234.37 336.2,234.3 337.7,234.24 339.2,234.17 340.7,234.09 342.2,234.01 343.7,233.93 345.2,233.85 346.7,233.76 348.2,233.67 349.7,233.57 351.2,233.46 352.7,233.36 354.2,233.24 355.7,233.12 357.2,233 358.7,232.87 360.2,232.73 361.7,232.59 363.2,232.44 364.7,232.28 366.2,232.12 367.7,231.95 369.2,231.76 370.7,231.58 372.2,231.38 373.7,231.17 375.2,230.95 376.7,230.72 378.2,230.48 379.7,230.23 381.2,229.96 382.7,229.69 384.2,229.4 385.7,229.09 387.2,228.77 388.7,228.44 390.2,228.09 391.7,227.72 393.2,227.34 394.7,226.93 396.2,226.51 397.7,226.07 399.2,225.6 400.7,225.12 402.2,224.6 403.7,224.07 405.2,223.51 406.7,222.92 408.2,222.3 409.7,221.66 411.2,220.98 412.7,220.27 414.2,219.53 415.7,218.74 417.2,217.93 418.7,217.07 420.2,216.17 421.7,215.23 423.2,214.24 424.7,213.21 426.2,212.12 427.7,210.98 429.2,209.79 430.7,208.54 432.2,207.23 433.7,205.86 435.2,204.42 436.7,202.91 438.2,201.32 439.7,199.67 441.2,197.93 442.7,196.11 444.2,194.2 445.7,192.19 447.2,190.09 448.7,187.89 450.2,185.59 451.7,183.17 453.2,180.64 454.7,177.98 456.2,175.19 457.7,172.28 459.2,169.22 460.7,166.01 462.2,162.65 463.7,159.12 465.2,155.43 466.7,151.55 468.2,147.49 469.7,143.24 471.2,138.78 472.7,134.1 474.2,129.2 475.7,124.06 477.2,118.68 478.7,113.03 480.2,107.11 481.7,100.91 483.2,94.41 484.7,87.59 486.2,80.44 487.7,72.95 489.2,65.1 490,60.76 498.8,21 501.4,33.6 503.6,46" fill="none" stroke="#F08CBE" stroke-width="1.5" stroke-linejoin="round"/></g><g clip-path="url(#c320)"><polyline points="331.7,234.5 333.2,234.45 334.7,234.39 336.2,234.32 337.7,234.26 339.2,234.19 340.7,234.11 342.2,234.04 343.7,233.96 345.2,233.87 346.7,233.78 348.2,233.69 349.7,233.59 351.2,233.49 352.7,233.39 354.2,233.27 355.7,233.16 357.2,233.03 358.7,232.91 360.2,232.77 361.7,232.63 363.2,232.48 364.7,232.33 366.2,232.16 367.7,231.99 369.2,231.81 370.7,231.63 372.2,231.43 373.7,231.22 375.2,231.01 376.7,230.78 378.2,230.54 379.7,230.3 381.2,230.03 382.7,229.76 384.2,229.48 385.7,229.17 387.2,228.86 388.7,228.53 390.2,228.18 391.7,227.82 393.2,227.44 394.7,227.04 396.2,226.63 397.7,226.19 399.2,225.73 400.7,225.25 402.2,224.74 403.7,224.21 405.2,223.66 406.7,223.08 408.2,222.47 409.7,221.83 411.2,221.16 412.7,220.46 414.2,219.73 415.7,218.96 417.2,218.15 418.7,217.3 420.2,216.41 421.7,215.48 423.2,214.51 424.7,213.49 426.2,212.41 427.7,211.29 429.2,210.11 430.7,208.88 432.2,207.59 433.7,206.23 435.2,204.81 436.7,203.32 438.2,201.75 439.7,200.12 441.2,198.4 442.7,196.6 444.2,194.71 445.7,192.74 447.2,190.66 448.7,188.49 450.2,186.21 451.7,183.83 453.2,181.32 454.7,178.7 456.2,175.95 457.7,173.07 459.2,170.05 460.7,166.88 462.2,163.56 463.7,160.08 465.2,156.43 466.7,152.6 468.2,148.6 469.7,144.39 471.2,139.99 472.7,135.37 474.2,130.53 475.7,125.46 477.2,120.14 478.7,114.56 480.2,108.72 481.7,102.59 483.2,96.17 484.7,89.44 486.2,82.38 487.7,74.99 489.2,67.23 490.7,59.1 491.5,53.2 499.7,27.9 502.8,43" fill="none" stroke="#F8620A" stroke-width="1.5" stroke-linejoin="round"/></g><g clip-path="url(#c320)"><polyline points="331.7,234.63 333.2,234.58 334.7,234.52 336.2,234.47 337.7,234.41 339.2,234.34 340.7,234.28 342.2,234.21 343.7,234.14 345.2,234.06 346.7,233.98 348.2,233.9 349.7,233.81 351.2,233.72 352.7,233.63 354.2,233.53 355.7,233.42 357.2,233.31 358.7,233.2 360.2,233.08 361.7,232.95 363.2,232.82 364.7,232.68 366.2,232.53 367.7,232.38 369.2,232.22 370.7,232.05 372.2,231.87 373.7,231.69 375.2,231.5 376.7,231.29 378.2,231.08 379.7,230.86 381.2,230.62 382.7,230.38 384.2,230.12 385.7,229.85 387.2,229.57 388.7,229.28 390.2,228.97 391.7,228.64 393.2,228.3 394.7,227.94 396.2,227.57 397.7,227.18 399.2,226.77 400.7,226.34 402.2,225.88 403.7,225.41 405.2,224.91 406.7,224.39 408.2,223.85 409.7,223.28 411.2,222.68 412.7,222.05 414.2,221.39 415.7,220.7 417.2,219.98 418.7,219.22 420.2,218.42 421.7,217.59 423.2,216.71 424.7,215.8 426.2,214.84 427.7,213.83 429.2,212.78 430.7,211.67 432.2,210.51 433.7,209.3 435.2,208.02 436.7,206.69 438.2,205.29 439.7,203.82 441.2,202.28 442.7,200.67 444.2,198.98 445.7,197.21 447.2,195.35 448.7,193.41 450.2,191.37 451.7,189.23 453.2,186.98 454.7,184.63 456.2,182.17 457.7,179.59 459.2,176.88 460.7,174.04 462.2,171.07 463.7,167.95 465.2,164.68 466.7,161.26 468.2,157.66 469.7,153.9 471.2,149.95 472.7,145.82 474.2,141.48 475.7,136.93 477.2,132.17 478.7,127.17 480.2,121.94 481.7,116.45 483.2,110.7 484.7,104.67 486.2,98.34 487.7,91.72 489.2,84.77 490.5,78.48 495.6,72.3 503.3,63.8" fill="none" stroke="#FFA00C" stroke-width="1.5" stroke-linejoin="round"/></g><g clip-path="url(#c320)"><polyline points="331.7,234.55 333.2,234.5 334.7,234.44 336.2,234.38 337.7,234.31 339.2,234.25 340.7,234.18 342.2,234.1 343.7,234.03 345.2,233.94 346.7,233.86 348.2,233.77 349.7,233.68 351.2,233.58 352.7,233.48 354.2,233.37 355.7,233.26 357.2,233.14 358.7,233.02 360.2,232.89 361.7,232.75 363.2,232.61 364.7,232.46 366.2,232.3 367.7,232.14 369.2,231.97 370.7,231.79 372.2,231.6 373.7,231.4 375.2,231.2 376.7,230.98 378.2,230.75 379.7,230.51 381.2,230.26 382.7,230 384.2,229.72 385.7,229.44 387.2,229.13 388.7,228.82 390.2,228.48 391.7,228.14 393.2,227.77 394.7,227.39 396.2,226.99 397.7,226.57 399.2,226.13 400.7,225.67 402.2,225.18 403.7,224.67 405.2,224.14 406.7,223.58 408.2,223 409.7,222.39 411.2,221.75 412.7,221.07 414.2,220.37 415.7,219.63 417.2,218.85 418.7,218.04 420.2,217.19 421.7,216.29 423.2,215.36 424.7,214.38 426.2,213.35 427.7,212.27 429.2,211.14 430.7,209.95 432.2,208.71 433.7,207.41 435.2,206.04 436.7,204.61 438.2,203.11 439.7,201.54 441.2,199.89 442.7,198.16 444.2,196.35 445.7,194.46 447.2,192.47 448.7,190.38 450.2,188.19 451.7,185.9 453.2,183.5 454.7,180.98 456.2,178.34 457.7,175.57 459.2,172.67 460.7,169.63 462.2,166.44 463.7,163.1 465.2,159.6 466.7,155.93 468.2,152.08 469.7,148.05 471.2,143.82 472.7,139.39 474.2,134.74 475.7,129.87 477.2,124.76 478.7,119.41 480.2,113.8 481.7,107.92 483.2,101.75 484.7,95.29 486.2,88.52 487.7,81.42 489.2,73.97 490.7,66.17 492,59.1 492.9,57.7 500.4,44.1 503.7,60 504,82" fill="none" stroke="#1577C6" stroke-width="1.5" stroke-linejoin="round"/></g><g clip-path="url(#c320)"><polyline points="331.7,234.59 333.2,234.54 334.7,234.48 336.2,234.42 337.7,234.36 339.2,234.3 340.7,234.23 342.2,234.16 343.7,234.08 345.2,234 346.7,233.92 348.2,233.84 349.7,233.75 351.2,233.65 352.7,233.55 354.2,233.45 355.7,233.34 357.2,233.23 358.7,233.11 360.2,232.98 361.7,232.85 363.2,232.72 364.7,232.57 366.2,232.42 367.7,232.26 369.2,232.1 370.7,231.92 372.2,231.74 373.7,231.55 375.2,231.35 376.7,231.14 378.2,230.92 379.7,230.69 381.2,230.45 382.7,230.19 384.2,229.93 385.7,229.65 387.2,229.36 388.7,229.05 390.2,228.73 391.7,228.39 393.2,228.04 394.7,227.67 396.2,227.28 397.7,226.88 399.2,226.45 400.7,226.01 402.2,225.54 403.7,225.05 405.2,224.53 406.7,224 408.2,223.43 409.7,222.84 411.2,222.22 412.7,221.57 414.2,220.89 415.7,220.17 417.2,219.42 418.7,218.64 420.2,217.81 421.7,216.95 423.2,216.05 424.7,215.1 426.2,214.11 427.7,213.06 429.2,211.97 430.7,210.83 432.2,209.63 433.7,208.37 435.2,207.05 436.7,205.67 438.2,204.22 439.7,202.7 441.2,201.11 442.7,199.44 444.2,197.69 445.7,195.86 447.2,193.93 448.7,191.92 450.2,189.81 451.7,187.59 453.2,185.27 454.7,182.84 456.2,180.29 457.7,177.62 459.2,174.81 460.7,171.88 462.2,168.8 463.7,165.57 465.2,162.19 466.7,158.64 468.2,154.92 469.7,151.02 471.2,146.94 472.7,142.66 474.2,138.17 475.7,133.46 477.2,128.53 478.7,123.36 480.2,117.94 481.7,112.26 483.2,106.3 484.7,100.06 486.2,93.52 487.7,86.66 489.2,79.47 490.7,71.93 492,65.1 494.4,63.2 502,53.4" fill="none" stroke="#10ACE8" stroke-width="1.5" stroke-linejoin="round"/></g><rect x="315.75" y="94.65" width="4.3" height="4.3" fill="#EA70AC" stroke="#EA70AC" stroke-width="1.1"/><rect x="353.05" y="92.25" width="4.3" height="4.3" fill="#EA70AC" stroke="#EA70AC" stroke-width="1.1"/><rect x="384.05" y="88.75" width="4.3" height="4.3" fill="#EA70AC" stroke="#EA70AC" stroke-width="1.1"/><rect x="424.15" y="74.25" width="4.3" height="4.3" fill="#EA70AC" stroke="#EA70AC" stroke-width="1.1"/><rect x="455.05" y="58.05" width="4.3" height="4.3" fill="#EA70AC" stroke="#EA70AC" stroke-width="1.1"/><rect x="480.85" y="90.85" width="4.3" height="4.3" fill="#EA70AC" stroke="#EA70AC" stroke-width="1.1"/><rect x="488.65" y="185.75" width="4.3" height="4.3" fill="#EA70AC" stroke="#EA70AC" stroke-width="1.1"/><rect x="346.25" y="231.5" width="4.3" height="4.3" fill="#fff" stroke="#EA70AC" stroke-width="1.1"/><rect x="402.55" y="221.55" width="4.3" height="4.3" fill="#fff" stroke="#EA70AC" stroke-width="1.1"/><rect x="463.75" y="145.75" width="4.3" height="4.3" fill="#fff" stroke="#EA70AC" stroke-width="1.1"/><rect x="496.65" y="18.85" width="4.3" height="4.3" fill="#fff" stroke="#EA70AC" stroke-width="1.1"/><rect x="499.25" y="31.45" width="4.3" height="4.3" fill="#fff" stroke="#EA70AC" stroke-width="1.1"/><circle cx="317.9" cy="74.2" r="2.65" fill="#F8620A" stroke="#F8620A" stroke-width="1.1"/><circle cx="355.2" cy="72.4" r="2.65" fill="#F8620A" stroke="#F8620A" stroke-width="1.1"/><circle cx="386.2" cy="69.2" r="2.65" fill="#F8620A" stroke="#F8620A" stroke-width="1.1"/><circle cx="426.3" cy="58.3" r="2.65" fill="#F8620A" stroke="#F8620A" stroke-width="1.1"/><circle cx="456.9" cy="48.3" r="2.65" fill="#F8620A" stroke="#F8620A" stroke-width="1.1"/><circle cx="482.6" cy="89.3" r="2.65" fill="#F8620A" stroke="#F8620A" stroke-width="1.1"/><circle cx="491.2" cy="167.7" r="2.65" fill="#F8620A" stroke="#F8620A" stroke-width="1.1"/><circle cx="354.2" cy="233.27" r="2.65" fill="#fff" stroke="#F8620A" stroke-width="1.1"/><circle cx="410.2" cy="221.61" r="2.65" fill="#fff" stroke="#F8620A" stroke-width="1.1"/><circle cx="469.5" cy="139.1" r="2.65" fill="#fff" stroke="#F8620A" stroke-width="1.1"/><circle cx="491.5" cy="53.2" r="2.65" fill="#fff" stroke="#F8620A" stroke-width="1.1"/><circle cx="499.7" cy="27.9" r="2.65" fill="#fff" stroke="#F8620A" stroke-width="1.1"/><polygon points="317.9,61.86 321,67.26 314.8,67.26" fill="#1577C6" stroke="#1577C6" stroke-width="1.1" stroke-linejoin="miter"/><polygon points="355.2,61.16 358.3,66.56 352.1,66.56" fill="#1577C6" stroke="#1577C6" stroke-width="1.1" stroke-linejoin="miter"/><polygon points="386.2,58.96 389.3,64.36 383.1,64.36" fill="#1577C6" stroke="#1577C6" stroke-width="1.1" stroke-linejoin="miter"/><polygon points="426.3,51.16 429.4,56.56 423.2,56.56" fill="#1577C6" stroke="#1577C6" stroke-width="1.1" stroke-linejoin="miter"/><polygon points="456.9,44.06 460,49.46 453.8,49.46" fill="#1577C6" stroke="#1577C6" stroke-width="1.1" stroke-linejoin="miter"/><polygon points="482.6,82.76 485.7,88.16 479.5,88.16" fill="#1577C6" stroke="#1577C6" stroke-width="1.1" stroke-linejoin="miter"/><polygon points="491.7,159.86 494.8,165.26 488.6,165.26" fill="#1577C6" stroke="#1577C6" stroke-width="1.1" stroke-linejoin="miter"/><polygon points="357.5,229.88 360.6,235.28 354.4,235.28" fill="#fff" stroke="#1577C6" stroke-width="1.1" stroke-linejoin="miter"/><polygon points="412.4,217.97 415.5,223.37 409.3,223.37" fill="#fff" stroke="#1577C6" stroke-width="1.1" stroke-linejoin="miter"/><polygon points="467.9,139.86 471,145.26 464.8,145.26" fill="#fff" stroke="#1577C6" stroke-width="1.1" stroke-linejoin="miter"/><polygon points="492.9,54.46 496,59.86 489.8,59.86" fill="#fff" stroke="#1577C6" stroke-width="1.1" stroke-linejoin="miter"/><polygon points="500.4,40.86 503.5,46.26 497.3,46.26" fill="#fff" stroke="#1577C6" stroke-width="1.1" stroke-linejoin="miter"/><polygon points="317.9,58.44 321,53.04 314.8,53.04" fill="#10ACE8" stroke="#10ACE8" stroke-width="1.1"/><polygon points="355.2,58.14 358.3,52.74 352.1,52.74" fill="#10ACE8" stroke="#10ACE8" stroke-width="1.1"/><polygon points="386.2,56.44 389.3,51.04 383.1,51.04" fill="#10ACE8" stroke="#10ACE8" stroke-width="1.1"/><polygon points="426.3,49.14 429.4,43.74 423.2,43.74" fill="#10ACE8" stroke="#10ACE8" stroke-width="1.1"/><polygon points="456.9,43.84 460,38.44 453.8,38.44" fill="#10ACE8" stroke="#10ACE8" stroke-width="1.1"/><polygon points="485.2,79.74 488.3,74.34 482.1,74.34" fill="#10ACE8" stroke="#10ACE8" stroke-width="1.1"/><polygon points="491.6,149.74 494.7,144.34 488.5,144.34" fill="#10ACE8" stroke="#10ACE8" stroke-width="1.1"/><polygon points="499.4,219.14 502.5,213.74 496.3,213.74" fill="#10ACE8" stroke="#10ACE8" stroke-width="1.1"/><polygon points="358.7,236.35 361.8,230.95 355.6,230.95" fill="#fff" stroke="#10ACE8" stroke-width="1.1"/><polygon points="413.5,224.45 416.6,219.05 410.4,219.05" fill="#fff" stroke="#10ACE8" stroke-width="1.1"/><polygon points="469.9,144.34 473,138.94 466.8,138.94" fill="#fff" stroke="#10ACE8" stroke-width="1.1"/><polygon points="494.4,66.44 497.5,61.04 491.3,61.04" fill="#fff" stroke="#10ACE8" stroke-width="1.1"/><polygon points="502,56.64 505.1,51.24 498.9,51.24" fill="#fff" stroke="#10ACE8" stroke-width="1.1"/><polygon points="317.9,52.5 321,55.6 317.9,58.7 314.8,55.6" fill="#FFA00C" stroke="#FFA00C" stroke-width="1.1"/><polygon points="355.2,52.1 358.3,55.2 355.2,58.3 352.1,55.2" fill="#FFA00C" stroke="#FFA00C" stroke-width="1.1"/><polygon points="386.2,50.4 389.3,53.5 386.2,56.6 383.1,53.5" fill="#FFA00C" stroke="#FFA00C" stroke-width="1.1"/><polygon points="426.3,42.8 429.4,45.9 426.3,49 423.2,45.9" fill="#FFA00C" stroke="#FFA00C" stroke-width="1.1"/><polygon points="456.9,37.8 460,40.9 456.9,44 453.8,40.9" fill="#FFA00C" stroke="#FFA00C" stroke-width="1.1"/><polygon points="484.3,74.9 487.4,78 484.3,81.1 481.2,78" fill="#FFA00C" stroke="#FFA00C" stroke-width="1.1"/><polygon points="492.6,139.3 495.7,142.4 492.6,145.5 489.5,142.4" fill="#FFA00C" stroke="#FFA00C" stroke-width="1.1"/><polygon points="498.6,218.1 501.7,221.2 498.6,224.3 495.5,221.2" fill="#FFA00C" stroke="#FFA00C" stroke-width="1.1"/><polygon points="361.1,229.9 364.2,233 361.1,236.1 358,233" fill="#fff" stroke="#FFA00C" stroke-width="1.1"/><polygon points="416,217.46 419.1,220.56 416,223.66 412.9,220.56" fill="#fff" stroke="#FFA00C" stroke-width="1.1"/><polygon points="473.1,142.4 476.2,145.5 473.1,148.6 470,145.5" fill="#fff" stroke="#FFA00C" stroke-width="1.1"/><polygon points="495.6,69.2 498.7,72.3 495.6,75.4 492.5,72.3" fill="#fff" stroke="#FFA00C" stroke-width="1.1"/><polygon points="503.3,60.7 506.4,63.8 503.3,66.9 500.2,63.8" fill="#fff" stroke="#FFA00C" stroke-width="1.1"/><polygon points="317.9,80.5 318.69,82.71 321.04,82.78 319.18,84.22 319.84,86.47 317.9,85.15 315.96,86.47 316.62,84.22 314.76,82.78 317.11,82.71" fill="#8F8F8F" stroke="#8F8F8F" stroke-width="0.9"/><polygon points="355.2,80.2 355.99,82.41 358.34,82.48 356.48,83.92 357.14,86.17 355.2,84.85 353.26,86.17 353.92,83.92 352.06,82.48 354.41,82.41" fill="#8F8F8F" stroke="#8F8F8F" stroke-width="0.9"/><polygon points="386.2,77.6 386.99,79.81 389.34,79.88 387.48,81.32 388.14,83.57 386.2,82.25 384.26,83.57 384.92,81.32 383.06,79.88 385.41,79.81" fill="#8F8F8F" stroke="#8F8F8F" stroke-width="0.9"/><polygon points="426.3,71.2 427.09,73.41 429.44,73.48 427.58,74.92 428.24,77.17 426.3,75.85 424.36,77.17 425.02,74.92 423.16,73.48 425.51,73.41" fill="#8F8F8F" stroke="#8F8F8F" stroke-width="0.9"/><polygon points="456.5,65.5 457.29,67.71 459.64,67.78 457.78,69.22 458.44,71.47 456.5,70.15 454.56,71.47 455.22,69.22 453.36,67.78 455.71,67.71" fill="#8F8F8F" stroke="#8F8F8F" stroke-width="0.9"/><polygon points="492.3,159 493.09,161.21 495.44,161.28 493.58,162.72 494.24,164.97 492.3,163.65 490.36,164.97 491.02,162.72 489.16,161.28 491.51,161.21" fill="#8F8F8F" stroke="#8F8F8F" stroke-width="0.9"/><polygon points="498.1,228.7 498.89,230.91 501.24,230.98 499.38,232.42 500.04,234.67 498.1,233.35 496.16,234.67 496.82,232.42 494.96,230.98 497.31,230.91" fill="#8F8F8F" stroke="#8F8F8F" stroke-width="0.9"/><polygon points="351.5,230.47 352.29,232.68 354.64,232.75 352.78,234.19 353.44,236.44 351.5,235.12 349.56,236.44 350.22,234.19 348.36,232.75 350.71,232.68" fill="#fff" stroke="#8F8F8F" stroke-width="0.9"/><polygon points="406.9,221.41 407.69,223.62 410.04,223.69 408.18,225.13 408.84,227.38 406.9,226.06 404.96,227.38 405.62,225.13 403.76,223.69 406.11,223.62" fill="#fff" stroke="#8F8F8F" stroke-width="0.9"/><polygon points="465.3,163.3 466.09,165.51 468.44,165.58 466.58,167.02 467.24,169.27 465.3,167.95 463.36,169.27 464.02,167.02 462.16,165.58 464.51,165.51" fill="#fff" stroke="#8F8F8F" stroke-width="0.9"/><polygon points="494.7,79 495.49,81.21 497.84,81.28 495.98,82.72 496.64,84.97 494.7,83.65 492.76,84.97 493.42,82.72 491.56,81.28 493.91,81.21" fill="#fff" stroke="#8F8F8F" stroke-width="0.9"/><polygon points="502.9,67.2 503.69,69.41 506.04,69.48 504.18,70.92 504.84,73.17 502.9,71.85 500.96,73.17 501.62,70.92 499.76,69.48 502.11,69.41" fill="#fff" stroke="#8F8F8F" stroke-width="0.9"/><line x1="333.4" y1="129.7" x2="358.2" y2="129.7" stroke="#F08CBE" stroke-width="1.6"/><line x1="360.6" y1="129.7" x2="385.5" y2="129.7" stroke="#F08CBE" stroke-width="1.6"/><rect x="343.85" y="127.55" width="4.3" height="4.3" fill="#EA70AC" stroke="#EA70AC" stroke-width="1.1"/><rect x="370.75" y="127.55" width="4.3" height="4.3" fill="#fff" stroke="#EA70AC" stroke-width="1.1"/><text class="t" x="393.6" y="133.5" font-size="10.3" letter-spacing="0.1">22 GHz</text><line x1="333.4" y1="143.05" x2="358.2" y2="143.05" stroke="#F8620A" stroke-width="1.6"/><line x1="360.6" y1="143.05" x2="385.5" y2="143.05" stroke="#F8620A" stroke-width="1.6"/><circle cx="346" cy="143.05" r="2.65" fill="#F8620A" stroke="#F8620A" stroke-width="1.1"/><circle cx="372.9" cy="143.05" r="2.65" fill="#fff" stroke="#F8620A" stroke-width="1.1"/><text class="t" x="393.6" y="146.85" font-size="10.3" letter-spacing="0.1">23 GHz</text><line x1="333.4" y1="156.4" x2="358.2" y2="156.4" stroke="#1577C6" stroke-width="1.6"/><line x1="360.6" y1="156.4" x2="385.5" y2="156.4" stroke="#1577C6" stroke-width="1.6"/><polygon points="346,153.16 349.1,158.56 342.9,158.56" fill="#1577C6" stroke="#1577C6" stroke-width="1.1" stroke-linejoin="miter"/><polygon points="372.9,153.16 376,158.56 369.8,158.56" fill="#fff" stroke="#1577C6" stroke-width="1.1" stroke-linejoin="miter"/><text class="t" x="393.6" y="160.2" font-size="10.3" letter-spacing="0.1">24 GHz</text><line x1="333.4" y1="169.75" x2="358.2" y2="169.75" stroke="#10ACE8" stroke-width="1.6"/><line x1="360.6" y1="169.75" x2="385.5" y2="169.75" stroke="#10ACE8" stroke-width="1.6"/><polygon points="346,172.99 349.1,167.59 342.9,167.59" fill="#10ACE8" stroke="#10ACE8" stroke-width="1.1"/><polygon points="372.9,172.99 376,167.59 369.8,167.59" fill="#fff" stroke="#10ACE8" stroke-width="1.1"/><text class="t" x="393.6" y="173.55" font-size="10.3" letter-spacing="0.1">25 GHz</text><line x1="333.4" y1="183.1" x2="358.2" y2="183.1" stroke="#FFA00C" stroke-width="1.6"/><line x1="360.6" y1="183.1" x2="385.5" y2="183.1" stroke="#FFA00C" stroke-width="1.6"/><polygon points="346,180 349.1,183.1 346,186.2 342.9,183.1" fill="#FFA00C" stroke="#FFA00C" stroke-width="1.1"/><polygon points="372.9,180 376,183.1 372.9,186.2 369.8,183.1" fill="#fff" stroke="#FFA00C" stroke-width="1.1"/><text class="t" x="393.6" y="186.9" font-size="10.3" letter-spacing="0.1">26 GHz</text><line x1="333.4" y1="196.45" x2="358.2" y2="196.45" stroke="#979797" stroke-width="1.6"/><line x1="360.6" y1="196.45" x2="385.5" y2="196.45" stroke="#979797" stroke-width="1.6"/><polygon points="346,193.15 346.79,195.36 349.14,195.43 347.28,196.87 347.94,199.12 346,197.8 344.06,199.12 344.72,196.87 342.86,195.43 345.21,195.36" fill="#8F8F8F" stroke="#8F8F8F" stroke-width="0.9"/><polygon points="372.9,193.15 373.69,195.36 376.04,195.43 374.18,196.87 374.84,199.12 372.9,197.8 370.96,199.12 371.62,196.87 369.76,195.43 372.11,195.36" fill="#fff" stroke="#8F8F8F" stroke-width="0.9"/><text class="t" x="393.6" y="200.25" font-size="10.3" letter-spacing="0.1">27 GHz</text><rect x="328.1" y="20.6" width="110" height="15.2" fill="#000"/><rect x="324.8" y="16.6" width="110" height="15.2" fill="#fff" stroke="#aaa" stroke-width="1"/><text class="t" x="328.9" y="28.8" font-size="11.4" letter-spacing="0.15">Phase: 180<tspan dx="0.1" dy="-4.6" font-size="8.8">o</tspan><tspan dx="0.3" dy="4.6"> mode</tspan></text><ellipse cx="426.6" cy="67.2" rx="11.0" ry="31.2" fill="none" stroke="#111" stroke-width="1.2"/><line x1="426.6" y1="98.4" x2="411.0" y2="98.4" stroke="#111" stroke-width="1.4"/><polygon points="403.5,98.4 412.1,96.0 412.1,100.80000000000001" fill="#111"/><ellipse cx="444.9" cy="190.3" rx="11.5" ry="16.0" fill="none" stroke="#111" stroke-width="1.2"/><line x1="444.9" y1="206.3" x2="464.2" y2="206.3" stroke="#111" stroke-width="1.4"/><polygon points="471.7,206.3 463.09999999999997,203.9 463.09999999999997,208.70000000000002" fill="#111"/><text class="t" x="314.8" y="239.7" font-size="13.1" text-anchor="end">22</text><text class="t" x="314.8" y="194.56" font-size="13.1" text-anchor="end">24</text><text class="t" x="314.8" y="149.42" font-size="13.1" text-anchor="end">26</text><text class="t" x="314.8" y="104.28" font-size="13.1" text-anchor="end">28</text><text class="t" x="314.8" y="59.14" font-size="13.1" text-anchor="end">30</text><text class="t" x="314.8" y="14" font-size="13.1" text-anchor="end">32</text><text class="t" x="511.2" y="239.7" font-size="13.1">0</text><text class="t" x="511.2" y="211.49" font-size="13.1">2</text><text class="t" x="511.2" y="183.27" font-size="13.1">4</text><text class="t" x="511.2" y="155.06" font-size="13.1">6</text><text class="t" x="511.2" y="126.85" font-size="13.1">8</text><text class="t" x="511.2" y="98.64" font-size="13.1">10</text><text class="t" x="511.2" y="70.43" font-size="13.1">12</text><text class="t" x="511.2" y="42.21" font-size="13.1">14</text><text class="t" x="511.2" y="14" font-size="13.1">16</text><text class="t" x="320.7" y="252" font-size="13.1" text-anchor="middle">-10</text><text class="t" x="354.2" y="252" font-size="13.1" text-anchor="middle">-5</text><text class="t" x="387.7" y="252" font-size="13.1" text-anchor="middle">0</text><text class="t" x="421.2" y="252" font-size="13.1" text-anchor="middle">5</text><text class="t" x="454.7" y="252" font-size="13.1" text-anchor="middle">10</text><text class="t" x="488.2" y="252" font-size="13.1" text-anchor="middle">15</text><text class="t" x="412.5" y="272.5" font-size="15.2" letter-spacing="0.45" text-anchor="middle">Output Power (dBm)</text><text class="t" transform="translate(294.3,123.3) rotate(-90)" font-size="16.3" text-anchor="middle">Gain (dB)</text><text class="t" transform="translate(543.4,123.3) rotate(-90)" font-size="16.3" text-anchor="middle">PAE (%)</text><text class="s" x="430.6" y="294.2" font-size="16.3" text-anchor="middle">(<tspan font-weight="bold" font-size="15">b</tspan>)</text></svg></body></html>
